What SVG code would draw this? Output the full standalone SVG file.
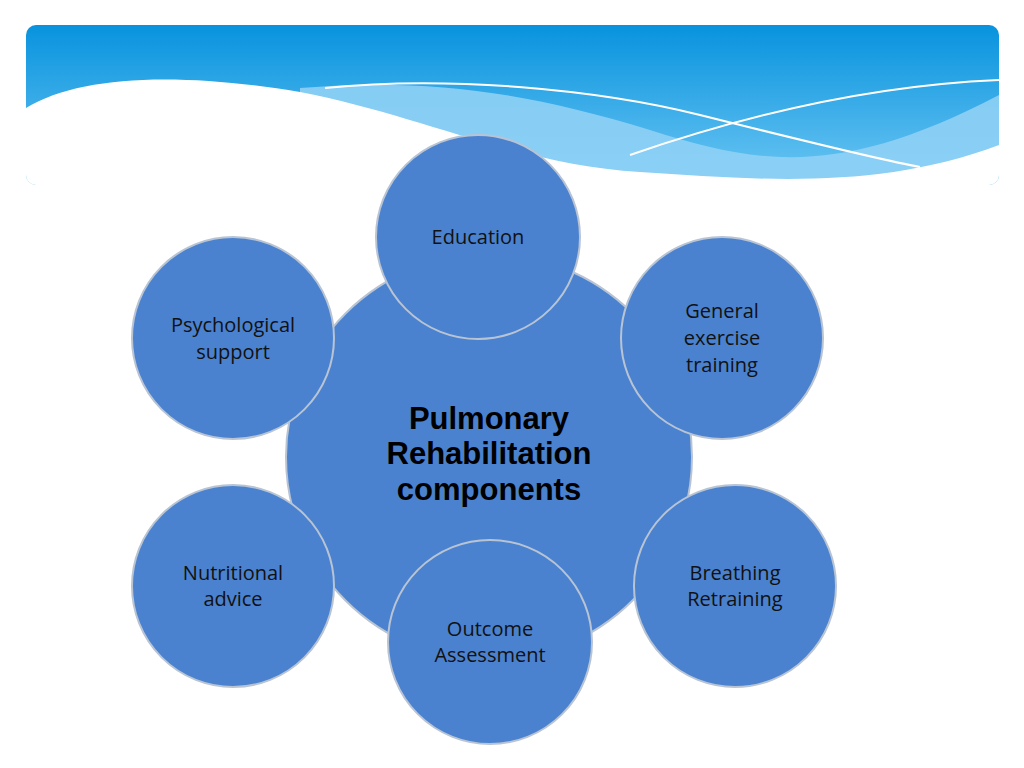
<svg xmlns="http://www.w3.org/2000/svg" width="1024" height="768" viewBox="0 0 1024 768">
<defs>
<linearGradient id="hg" x1="0" y1="0" x2="0" y2="1"><stop offset="0" stop-color="#0893de"/><stop offset="1" stop-color="#6cc6f3"/></linearGradient>
<clipPath id="hc"><rect x="26" y="25" width="973" height="160" rx="10"/></clipPath>
<style>
.c{fill:#4a82cf;stroke:#b8c4d4;stroke-width:2}
.t{font-family:"Open Sans","Liberation Sans",sans-serif;font-size:20px;fill:#111;text-anchor:middle}
.b{font-family:"Liberation Sans",Arial,sans-serif;font-size:31px;font-weight:bold;fill:#000;text-anchor:middle}
</style>
</defs>
<rect width="1024" height="768" fill="#fff"/>
<g clip-path="url(#hc)">
<rect x="26" y="25" width="973" height="160" fill="url(#hg)"/>
<path d="M300,88 C420,78 520,90 650,130 C760,165 840,178 999,95 L999,200 L300,200 Z" fill="#8fd0f5" opacity="0.9"/>
<path d="M26,108 C80,75 180,72 300,92 C420,115 520,165 640,172 C760,180 880,190 999,145 L999,200 L26,200 Z" fill="#fff"/>
<path d="M325,88 C450,75 600,90 700,115 C800,140 880,160 920,167" fill="none" stroke="#fff" stroke-width="2"/>
<path d="M630,155 C760,110 880,85 999,80" fill="none" stroke="#fff" stroke-width="2"/>
</g>
<g id="center"><circle class="c" cx="489" cy="457" r="203"/>
<text class="b" x="489" y="429">Pulmonary</text><text class="b" x="489" y="464">Rehabilitation</text><text class="b" x="489" y="500">components</text></g>
<g id="education"><circle class="c" cx="478" cy="237" r="102"/><text class="t" x="478" y="244">Education</text></g>
<g id="exercise"><circle class="c" cx="722" cy="338" r="101"/><text class="t" x="722" y="318">General</text><text class="t" x="722" y="345">exercise</text><text class="t" x="722" y="372">training</text></g>
<g id="psych"><circle class="c" cx="233" cy="338" r="101"/><text class="t" x="233" y="332">Psychological</text><text class="t" x="233" y="359">support</text></g>
<g id="nutrition"><circle class="c" cx="233" cy="586" r="101"/><text class="t" x="233" y="580">Nutritional</text><text class="t" x="233" y="606">advice</text></g>
<g id="breathing"><circle class="c" cx="735" cy="586" r="101"/><text class="t" x="735" y="580">Breathing</text><text class="t" x="735" y="606">Retraining</text></g>
<g id="outcome"><circle class="c" cx="490" cy="642" r="102"/><text class="t" x="490" y="636">Outcome</text><text class="t" x="490" y="662">Assessment</text></g>
<g id="connectors"></g>
</svg>
